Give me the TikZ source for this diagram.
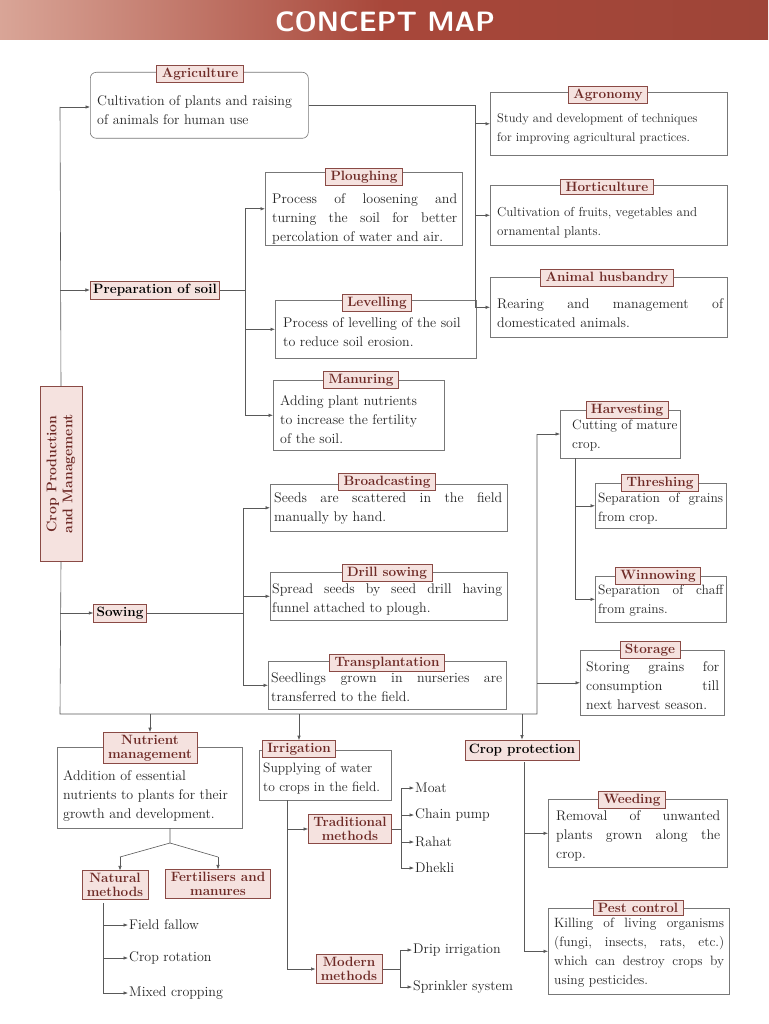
\documentclass[tikz,border=0pt]{standalone}
\usetikzlibrary{arrows.meta}
\definecolor{tagfill}{HTML}{F5E2DF}
\definecolor{tagdraw}{HTML}{8A4A45}
\definecolor{tagtext}{HTML}{6E2A26}
\definecolor{boxdraw}{HTML}{777777}
\definecolor{banL}{HTML}{D9A597}
\definecolor{banM}{HTML}{A8473A}
\definecolor{banR}{HTML}{9E4538}
\newcommand\jline[2]{\makebox[#1pt][s]{#2}}
\begin{document}
\begin{tikzpicture}[x=1pt,y=-1pt,
  box/.style={draw=boxdraw, line width=0.6pt, fill=white, anchor=north west, inner sep=0},
  tag/.style={draw=tagdraw, fill=tagfill, line width=0.6pt, text=tagtext, font=\fontsize{13.5}{14}\selectfont\bfseries, inner xsep=5pt, inner ysep=2.5pt, align=center},
  txt/.style={anchor=north west, align=left, inner sep=0, text=black!85, font=\fontsize{14}{19}\selectfont},
  item/.style={anchor=west, inner sep=1pt, text=black!85, font=\fontsize{14}{15}\selectfont},
  ln/.style={draw=black!65, line width=0.6pt},
  arr/.style={ln, -{Latex[length=4.5pt,width=3.5pt]}}]
\useasboundingbox (0,0) rectangle (768,1024);
\fill[white] (0,0) rectangle (768,1024);
% banner
\shade[left color=banL, right color=banR, middle color=banM] (0,0) rectangle (768,40);
\node[text=white, font=\fontsize{28}{28}\selectfont\sffamily\bfseries] (title) at (385,22) {CONCEPT MAP};

% central node
\node[draw=tagdraw, fill=tagfill, text=tagtext, font=\fontsize{14}{16}\selectfont\bfseries, align=center, rotate=90, minimum width=175pt, minimum height=42pt, inner sep=2pt] (crop) at (61,474) {Crop Production\\and Management};

% Agriculture
\node[box, rounded corners=6pt, minimum width=218pt, minimum height=66pt] (agri) at (90,72) {};
\node[txt] (agrit) at (97,95) {Cultivation of plants and raising\\of animals for human use};
\node[tag] (agritag) at (200,74) {Agriculture};

% right top boxes
\node[box, minimum width=237pt, minimum height=63pt] (agron) at (490,92) {};
\node[txt, font=\fontsize{12.5}{19}\selectfont] (agront) at (497,114) {Study and development of techniques\\for improving agricultural practices.};
\node[tag] (agrontag) at (608,95) {Agronomy};
\node[box, minimum width=237pt, minimum height=60pt] (horti) at (490,185) {};
\node[txt, font=\fontsize{13}{19}\selectfont] (hortit) at (497,207) {Cultivation of fruits, vegetables and\\ornamental plants.};
\node[tag] (hortitag) at (607,187) {Horticulture};
\node[box, minimum width=237pt, minimum height=60pt] (husb) at (490,277) {};
\node[txt] (husbt) at (497,298) {\jline{226}{Rearing and management of}\\domesticated animals.};
\node[tag] (husbtag) at (607,278) {Animal husbandry};

% Preparation of soil
\node[tag, text=black, inner sep=3pt] (prep) at (155,290) {Preparation of soil};
\node[box, minimum width=197pt, minimum height=73pt] (plough) at (265,172) {};
\node[txt] (plought) at (272,193) {\jline{185}{Process of loosening and}\\\jline{185}{turning the soil for better}\\percolation of water and air.};
\node[tag] (ploughtag) at (364,177) {Ploughing};
\node[box, minimum width=201pt, minimum height=58pt] (level) at (275,300) {};
\node[txt] (levelt) at (283,317) {Process of levelling of the soil\\to reduce soil erosion.};
\node[tag] (leveltag) at (377,303) {Levelling};
\node[box, minimum width=171pt, minimum height=70pt] (manur) at (273,380) {};
\node[txt] (manurt) at (280,395) {Adding plant nutrients\\to increase the fertility\\of the soil.};
\node[tag] (manurtag) at (361,380) {Manuring};

% Sowing
\node[tag, text=black, inner sep=3pt] (sow) at (120,613) {Sowing};
\node[box, minimum width=237pt, minimum height=47pt] (broad) at (270,484) {};
\node[txt] (broadt) at (274,492) {\jline{228}{Seeds are scattered in the field}\\manually by hand.};
\node[tag] (broadtag) at (387,482) {Broadcasting};
\node[box, minimum width=237pt, minimum height=48pt] (drill) at (270,572) {};
\node[txt] (drillt) at (272,583) {\jline{230}{Spread seeds by seed drill having}\\funnel attached to plough.};
\node[tag] (drilltag) at (387,573) {Drill sowing};
\node[box, minimum width=238pt, minimum height=48pt] (trans) at (268,661) {};
\node[txt] (transt) at (271,672) {\jline{231}{Seedlings grown in nurseries are}\\transferred to the field.};
\node[tag] (transtag) at (387,663) {Transplantation};

% Harvesting group
\node[box, minimum width=120pt, minimum height=48pt] (harv) at (560,410) {};
\node[txt, font=\fontsize{13.5}{19}\selectfont] (harvt) at (572,420) {Cutting of mature\\crop.};
\node[tag] (harvtag) at (627,410) {Harvesting};
\node[box, minimum width=131pt, minimum height=45pt] (thresh) at (595,483) {};
\node[txt, font=\fontsize{13.5}{19}\selectfont] (thresht) at (598,493) {\jline{125}{Separation of grains}\\from crop.};
\node[tag] (threshtag) at (660,483) {Threshing};
\node[box, minimum width=131pt, minimum height=46pt] (winn) at (595,576) {};
\node[txt, font=\fontsize{13.5}{19}\selectfont] (winnt) at (598,585) {\jline{125}{Separation of chaff}\\from grains.};
\node[tag] (winntag) at (658,576) {Winnowing};
\node[box, minimum width=144pt, minimum height=65pt] (stor) at (580,650) {};
\node[txt] (stort) at (586,661) {\jline{133}{Storing grains for}\\\jline{133}{consumption till}\\next harvest season.};
\node[tag] (stortag) at (650,650) {Storage};

% Bottom: nutrient
\node[box, minimum width=185pt, minimum height=81pt] (nm) at (57,747) {};
\node[txt] (nmt) at (63,770) {Addition of essential\\nutrients to plants for their\\growth and development.};
\node[tag] (nmtag) at (150,748) {Nutrient\\management};
\node[tag] (nat) at (115,885) {Natural\\methods};
\node[tag] (fert) at (218,884) {Fertilisers and\\manures};
\node[item] (ff) at (128,925) {Field fallow};
\node[item] (cr) at (128,958) {Crop rotation};
\node[item] (mc) at (128,993) {Mixed cropping};

% Irrigation
\node[box, minimum width=132pt, minimum height=50pt] (irr) at (259,750) {};
\node[txt, font=\fontsize{13.5}{19}\selectfont] (irrt) at (263,763) {Supplying of water\\to crops in the field.};
\node[tag] (irrtag) at (299,749) {Irrigation};
\node[tag] (trad) at (350,829) {Traditional\\methods};
\node[tag] (mod) at (349,969) {Modern\\methods};
\node[item] (moat) at (414,788) {Moat};
\node[item] (chain) at (414,815) {Chain pump};
\node[item] (rahat) at (414,842) {Rahat};
\node[item] (dhekli) at (414,868) {Dhekli};
\node[item] (drip) at (412,950) {Drip irrigation};
\node[item] (sprink) at (412,987) {Sprinkler system};

% Crop protection
\node[tag, text=black, inner sep=4pt] (cp) at (522,750) {Crop protection};
\node[box, minimum width=179pt, minimum height=68pt] (weed) at (548,799) {};
\node[txt] (weedt) at (556,810) {\jline{164}{Removal of unwanted}\\\jline{164}{plants grown along the}\\crop.};
\node[tag] (weedtag) at (632,800) {Weeding};
\node[box, minimum width=181pt, minimum height=86pt] (pest) at (548,908) {};
\node[txt, font=\fontsize{13.5}{19}\selectfont] (pestt) at (554,918) {\jline{170}{Killing of living organisms}\\\jline{170}{(fungi, insects, rats, etc.)}\\\jline{170}{which can destroy crops by}\\using pesticides.};
\node[tag] (pesttag) at (638,908) {Pest control};

% ---- connectors ----
\coordinate (T1) at (60,107);
\coordinate (T2) at (60,714);
\coordinate (B) at (537,714);
\coordinate (H) at (537,434);
\draw[ln] (T1) -- (crop.east);
\draw[ln] (crop.west) -- (T2) -- (B) -- (H);
\draw[arr] (T1) -- (T1 -| agri.west);
\draw[arr] (prep.west -| T1) -- (prep.west);
\draw[arr] (sow.west -| T1) -- (sow.west);
\draw[arr] (H) -- (harv.west |- H);
\draw[arr] (stor.west -| B) -- (stor.west);

% agriculture -> right
\coordinate (A1) at (475,105);
\draw[ln] (agri.east |- A1) -- (A1) -- (A1 |- husb.west);
\draw[arr] (A1 |- agron.west) -- (agron.west);
\draw[arr] (A1 |- horti.west) -- (horti.west);
\draw[arr] (A1 |- husb.west) -- (husb.west);

% preparation
\coordinate (P1) at (245,290);
\draw[ln] (prep.east) -- (P1);
\draw[ln] (P1 |- plough.west) -- (P1 |- manur.west);
\draw[arr] (P1 |- plough.west) -- (plough.west);
\draw[arr] (P1 |- level.west) -- (level.west);
\draw[arr] (P1 |- manur.west) -- (manur.west);

% sowing
\coordinate (S1) at (243,613);
\draw[ln] (sow.east) -- (S1);
\draw[ln] (S1 |- broad.west) -- (S1 |- trans.west);
\draw[arr] (S1 |- broad.west) -- (broad.west);
\draw[arr] (S1 |- drill.west) -- (drill.west);
\draw[arr] (S1 |- trans.west) -- (trans.west);

% harvesting subs
\coordinate (HS) at (575,458);
\draw[ln] (HS) -- (HS |- winn.west);
\draw[arr] (HS |- thresh.west) -- (thresh.west);
\draw[arr] (HS |- winn.west) -- (winn.west);

% bottom branches
\draw[arr] (nmtag.north |- T2) -- (nmtag.north);
\draw[arr] (irrtag.north |- T2) -- (irrtag.north);
\draw[arr] (cp.north |- T2) -- (cp.north);

% nutrient
\coordinate (N0) at (170,828);
\coordinate (N1) at (170,843);
\coordinate (NL) at (120,857);
\coordinate (NR) at (218,857);
\draw[ln] (N0) -- (N1) -- (NL);
\draw[ln] (N1) -- (NR);
\draw[arr] (NL) -- (NL |- nat.north);
\draw[arr] (NR) -- (fert.north);
\coordinate (NM) at (103,903);
\draw[ln] (NM) -- (NM |- mc.west);
\draw[arr] (NM |- ff.west) -- (ff.west);
\draw[arr] (NM |- cr.west) -- (cr.west);
\draw[arr] (NM |- mc.west) -- (mc.west);

% irrigation
\coordinate (I1) at (287,800);
\draw[ln] (I1) -- (I1 |- mod.west);
\draw[arr] (I1 |- trad.west) -- (trad.west);
\draw[arr] (I1 |- mod.west) -- (mod.west);
\coordinate (TR) at (401,829);
\draw[ln] (trad.east) -- (TR);
\draw[ln] (TR |- moat.west) -- (TR |- dhekli.west);
\draw[arr] (TR |- moat.west) -- (moat.west);
\draw[arr] (TR |- chain.west) -- (chain.west);
\draw[arr] (TR |- rahat.west) -- (rahat.west);
\draw[arr] (TR |- dhekli.west) -- (dhekli.west);
\coordinate (MR) at (400,969);
\draw[ln] (mod.east) -- (MR);
\draw[ln] (MR |- drip.west) -- (MR |- sprink.west);
\draw[arr] (MR |- drip.west) -- (drip.west);
\draw[arr] (MR |- sprink.west) -- (sprink.west);

% crop protection
\coordinate (C1) at (524,762);
\draw[ln] (C1) -- (C1 |- pest.west);
\draw[arr] (C1 |- weed.west) -- (weed.west);
\draw[arr] (C1 |- pest.west) -- (pest.west);
\end{tikzpicture}
\end{document}
